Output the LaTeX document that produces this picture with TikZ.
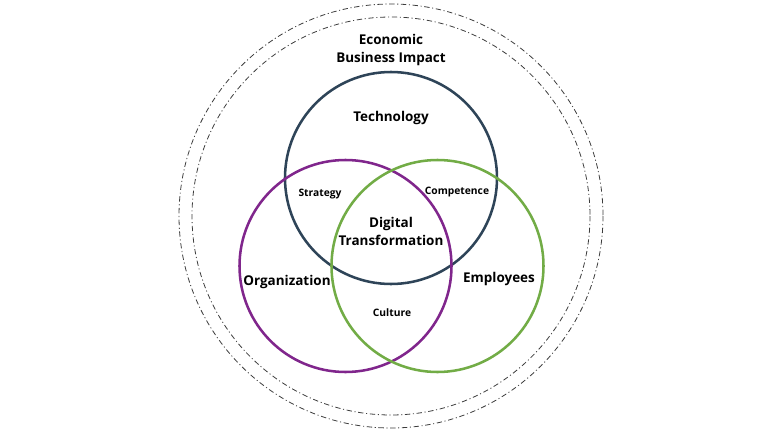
\documentclass[tikz,border=0pt]{standalone}
\usepackage{fontspec}
\setmainfont{Open Sans}
\usetikzlibrary{positioning}

\begin{document}
\begin{tikzpicture}[x=0.75pt, y=-0.75pt,
		biglabel/.style={font={\bfseries\fontsize{10.1}{13}\selectfont}, anchor=base, inner sep=0pt},
		smalllabel/.style={font={\bfseries\fontsize{7.7}{9}\selectfont}, anchor=base, inner sep=0pt},
		ring/.style={line width={1.9pt}}]
	\definecolor{SLATE}{RGB}{46, 68, 88}
	\definecolor{PURPLE}{RGB}{128, 38, 140}
	\definecolor{GREEN}{RGB}{114, 172, 70}
	\definecolor{DASH_GRAY}{RGB}{60, 60, 60}
	\useasboundingbox (0, 0) rectangle (768, 432);

	% centres of the circles
	\coordinate (middle) at (391, 216);
	\coordinate (tech) at (391, 178);
	\coordinate (org) at (345.5, 266);
	\coordinate (emp) at (437.5, 266);

	\begin{scope}[line width={0.6pt}, color={DASH_GRAY}, dash pattern={on 4pt off 2pt on 0.8pt off 2pt}]
		\draw (middle) circle (212);
		\draw (middle) circle (199);
	\end{scope}

	\draw[ring, color={SLATE}] (tech) circle (106);
	\draw[ring, color={PURPLE}] (org) circle (106);
	\draw[ring, color={GREEN}] (emp) circle (106);

	% labels, placed on their baselines
	\node[biglabel] (economic) at (391, 45) {Economic};
	\node[biglabel] (business) at (391, 62.5) {Business Impact};
	\node[biglabel] (technology) at (391, 121.5) {Technology};
	\node[biglabel] (organization) at (287, 285.5) {Organization};
	\node[biglabel] (employees) at (499, 282.3) {Employees};
	\node[biglabel] (digital) at (391, 227.7) {Digital};
	\node[biglabel] (transformation) at (391, 245) {Transformation};

	\node[smalllabel] (strategy) at (320, 196.5) {Strategy};
	\node[smalllabel] (competence) at (457, 194) {Competence};
	\node[smalllabel] (culture) at (392, 316.5) {Culture};
\end{tikzpicture}
\end{document}
